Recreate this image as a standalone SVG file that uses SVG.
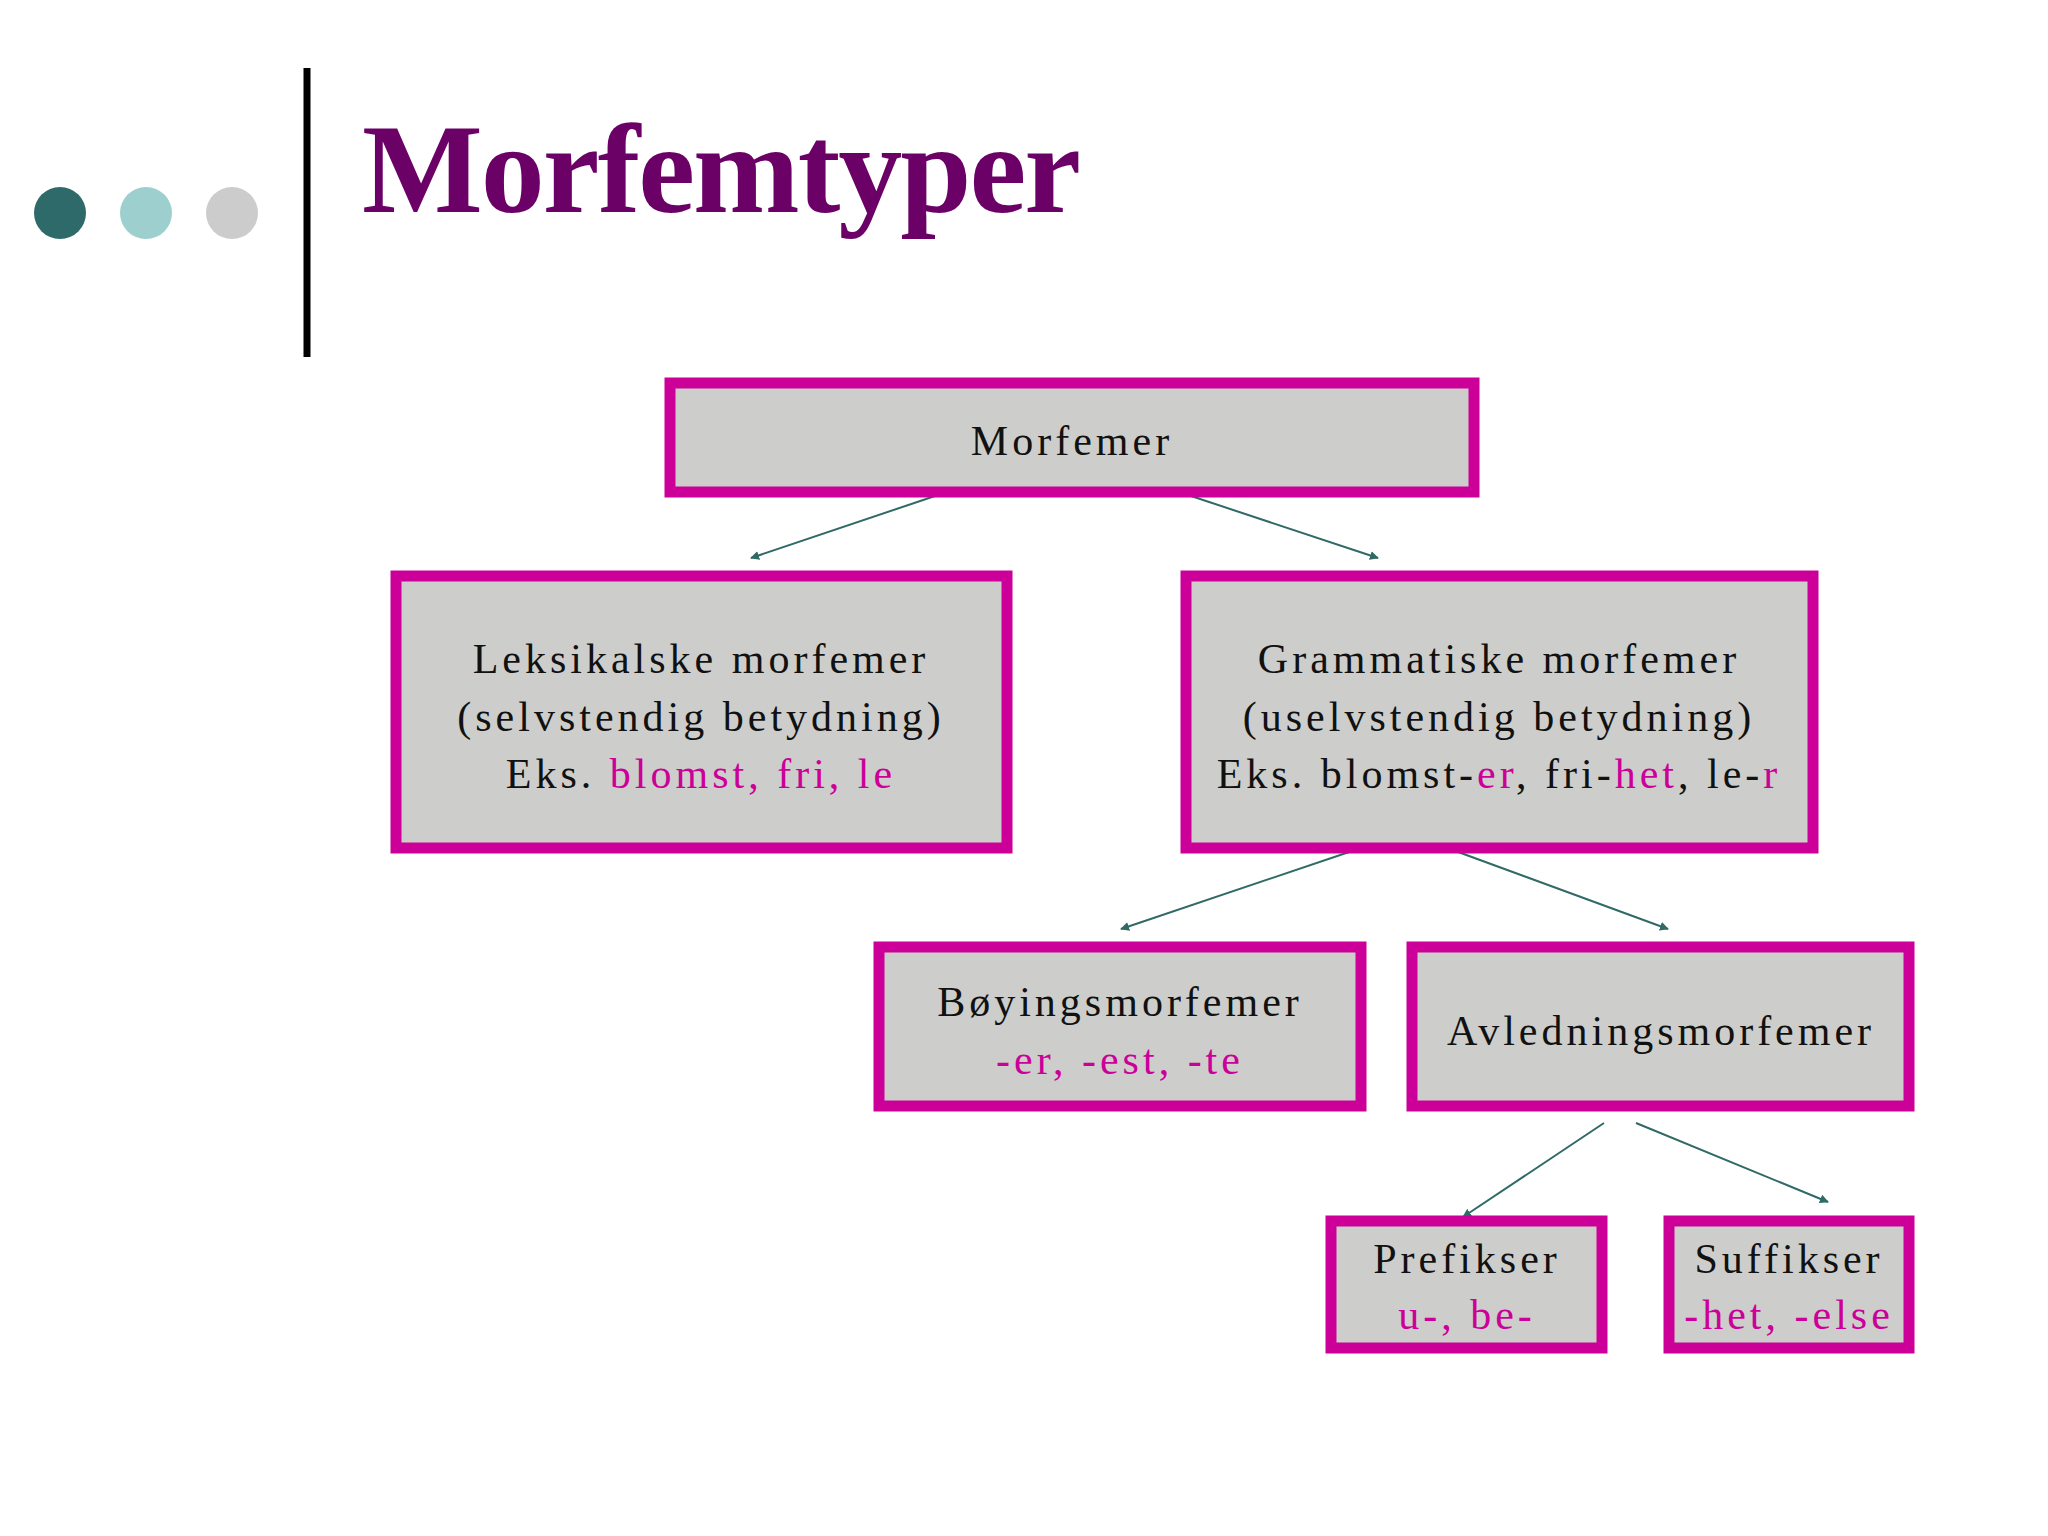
<svg xmlns="http://www.w3.org/2000/svg" width="2048" height="1536" viewBox="0 0 2048 1536">
<style>
.box{fill:#CDCECB;stroke:#CC0099;stroke-width:11}
.t{font-family:"Liberation Serif",serif;font-size:42px;fill:#111;text-anchor:middle;letter-spacing:4px}
.m{fill:#CC0099}
.c{stroke:#2F6A66;stroke-width:2;fill:none;marker-end:url(#a)}
</style>
<defs><marker id="a" viewBox="0 0 10 10" refX="9" refY="5" markerWidth="9" markerHeight="9" orient="auto" markerUnits="userSpaceOnUse"><path d="M0,0L10,5L0,10z" fill="#2F6A66"/></marker></defs>
<rect width="2048" height="1536" fill="#FFFFFF"/>
<circle cx="60" cy="213" r="26" fill="#2F6A6A"/>
<circle cx="146" cy="213" r="26" fill="#9ECFCF"/>
<circle cx="232" cy="213" r="26" fill="#CCCCCC"/>
<line x1="307" y1="68" x2="307" y2="357" stroke="#000" stroke-width="7"/>
<text x="362" y="212" font-family="Liberation Serif,serif" font-weight="bold" font-size="128" fill="#6B0066" letter-spacing="-2">Morfemtyper</text>
<g id="connectors">
<line class="c" x1="938" y1="495" x2="751" y2="558"/>
<line class="c" x1="1188" y1="495" x2="1378" y2="558"/>
<line class="c" x1="1358" y1="849" x2="1121" y2="929"/>
<line class="c" x1="1450" y1="849" x2="1668" y2="929"/>
<line class="c" x1="1604" y1="1123" x2="1463" y2="1217"/>
<line class="c" x1="1636" y1="1123" x2="1828" y2="1202"/>
</g>
<g id="morfemer"><rect class="box" x="670" y="383" width="804" height="109"/><text class="t" x="1072" y="455">Morfemer</text></g>
<g id="leksikalske"><rect class="box" x="396" y="576" width="611" height="272"/>
<text class="t" x="701" y="673">Leksikalske morfemer</text>
<text class="t" x="701" y="731">(selvstendig betydning)</text>
<text class="t" x="701" y="788">Eks. <tspan class="m">blomst, fri, le</tspan></text></g>
<g id="grammatiske"><rect class="box" x="1186" y="576" width="627" height="272"/>
<text class="t" x="1499" y="673">Grammatiske morfemer</text>
<text class="t" x="1499" y="731">(uselvstendig betydning)</text>
<text class="t" x="1499" y="788">Eks. blomst-<tspan class="m">er</tspan>, fri-<tspan class="m">het</tspan>, le-<tspan class="m">r</tspan></text></g>
<g id="boying"><rect class="box" x="879" y="947" width="482" height="159"/>
<text class="t" x="1120" y="1016">Bøyingsmorfemer</text>
<text class="t m" x="1120" y="1074">-er, -est, -te</text></g>
<g id="avledning"><rect class="box" x="1412" y="947" width="497" height="159"/>
<text class="t" x="1661" y="1045">Avledningsmorfemer</text></g>
<g id="prefikser"><rect class="box" x="1331" y="1221" width="271" height="127"/>
<text class="t" x="1467" y="1273">Prefikser</text>
<text class="t m" x="1467" y="1329">u-, be-</text></g>
<g id="suffikser"><rect class="box" x="1669" y="1221" width="240" height="127"/>
<text class="t" x="1789" y="1273">Suffikser</text>
<text class="t m" x="1789" y="1329">-het, -else</text></g>
</svg>
